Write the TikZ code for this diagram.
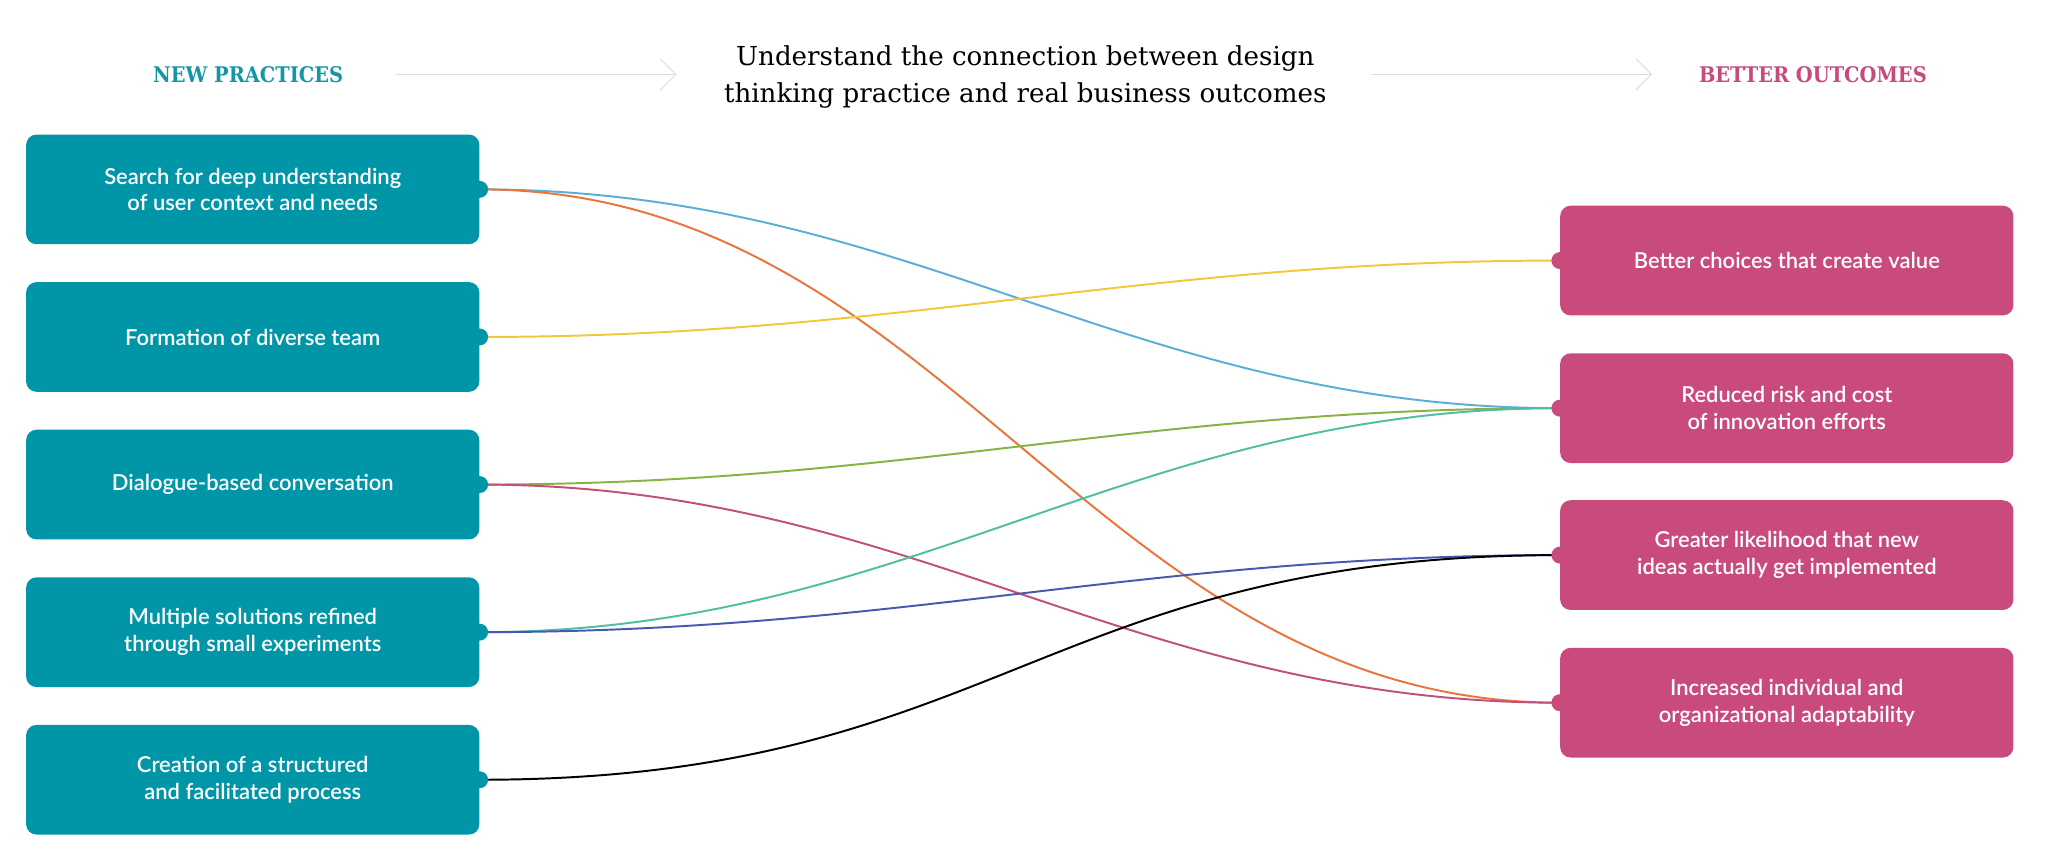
\documentclass[tikz,border=0pt]{standalone}
\usepackage{fontspec}
\setmainfont{Lato}
\newfontfamily\boxfont{Lato}[UprightFont={* Semibold}]
\newfontfamily\slabfont{DejaVu Serif}
\newfontfamily\slabcond{DejaVu Serif Condensed}
\usetikzlibrary{arrows.meta}
\definecolor{practiceteal}{RGB}{0,150,168}
\definecolor{outcomepink}{RGB}{201,75,125}
\definecolor{headteal}{RGB}{20,150,165}
\definecolor{headpink}{RGB}{200,74,124}
\definecolor{guidegray}{RGB}{222,222,222}
\definecolor{linkblue}{RGB}{90,175,215}
\definecolor{linkorange}{RGB}{232,118,60}
\definecolor{linkyellow}{RGB}{240,200,60}
\definecolor{linkgreen}{RGB}{138,176,70}
\definecolor{linkmagenta}{RGB}{192,80,125}
\definecolor{linkteal}{RGB}{80,190,165}
\definecolor{linkindigo}{RGB}{70,90,175}
\begin{document}
\begin{tikzpicture}[x=1pt,y=-1pt,
	practice/.style={fill=practiceteal, rounded corners=8pt, minimum width=347pt, minimum height=84pt, text=white, align=center, font=\boxfont\fontsize{16.8}{20.5}\selectfont},
	outcome/.style={practice, fill=outcomepink},
	heading/.style={font=\slabcond\bfseries\fontsize{16.5}{19}\selectfont},
	guide/.style={line width=0.8pt, draw=guidegray, -{Straight Barb[length=12pt,width=24pt]}},
	link/.style={line width=1.5pt}
]
\useasboundingbox (0,0) rectangle (1568,655);

\node[heading, text=headteal] (newhead) at (190,57) {NEW PRACTICES};
\node[heading, text=headpink] (besthead) at (1388,57) {BETTER OUTCOMES};
\node[font=\slabfont\fontsize{20}{28}\selectfont, align=center] (title) at (785,59) {Understand the connection between design\\thinking practice and real business outcomes};

\coordinate (g1s) at (303,57);
\coordinate (g1e) at (518,57);
\coordinate (g2s) at (1050,57);
\coordinate (g2e) at (1265,57);
\draw[guide] (g1s) -- (g1e);
\draw[guide] (g2s) -- (g2e);

\foreach \n/\y/\txt in {1/145/{Search for deep understanding\\of user context and needs},
	2/258/{Formation of diverse team},
	3/371/{Dialogue-based conversation},
	4/484/{Multiple solutions refined\\through small experiments},
	5/597/{Creation of a structured\\and facilitated process}} {
	\node[practice] (p\n) at (193.5,\y) {\txt};
}

\foreach \n/\y/\txt in {1/199.5/{Better choices that create value},
	2/312.5/{Reduced risk and cost\\of innovation efforts},
	3/425/{Greater likelihood that new\\ideas actually get implemented},
	4/538/{Increased individual and\\organizational adaptability}} {
	\node[outcome] (o\n) at (1368,\y) {\txt};
}

\draw[link, linkblue] (p1.east) to[out=0, in=180] (o2.west);
\draw[link, linkorange] (p1.east) to[out=0, in=180] (o4.west);
\draw[link, linkyellow] (p2.east) to[out=0, in=180] (o1.west);
\draw[link, linkgreen] (p3.east) to[out=0, in=180] (o2.west);
\draw[link, linkmagenta] (p3.east) to[out=0, in=180] (o4.west);
\draw[link, linkteal] (p4.east) to[out=0, in=180] (o2.west);
\draw[link, linkindigo] (p4.east) to[out=0, in=180] (o3.west);
\draw[link, black] (p5.east) to[out=0, in=180, looseness=1.2] (o3.west);

\foreach \n in {1,...,5} {
	\fill[practiceteal] (p\n.east) circle (6.5pt);
}
\foreach \n in {1,...,4} {
	\fill[outcomepink] (o\n.west) circle (6.5pt);
}
\end{tikzpicture}
\end{document}
